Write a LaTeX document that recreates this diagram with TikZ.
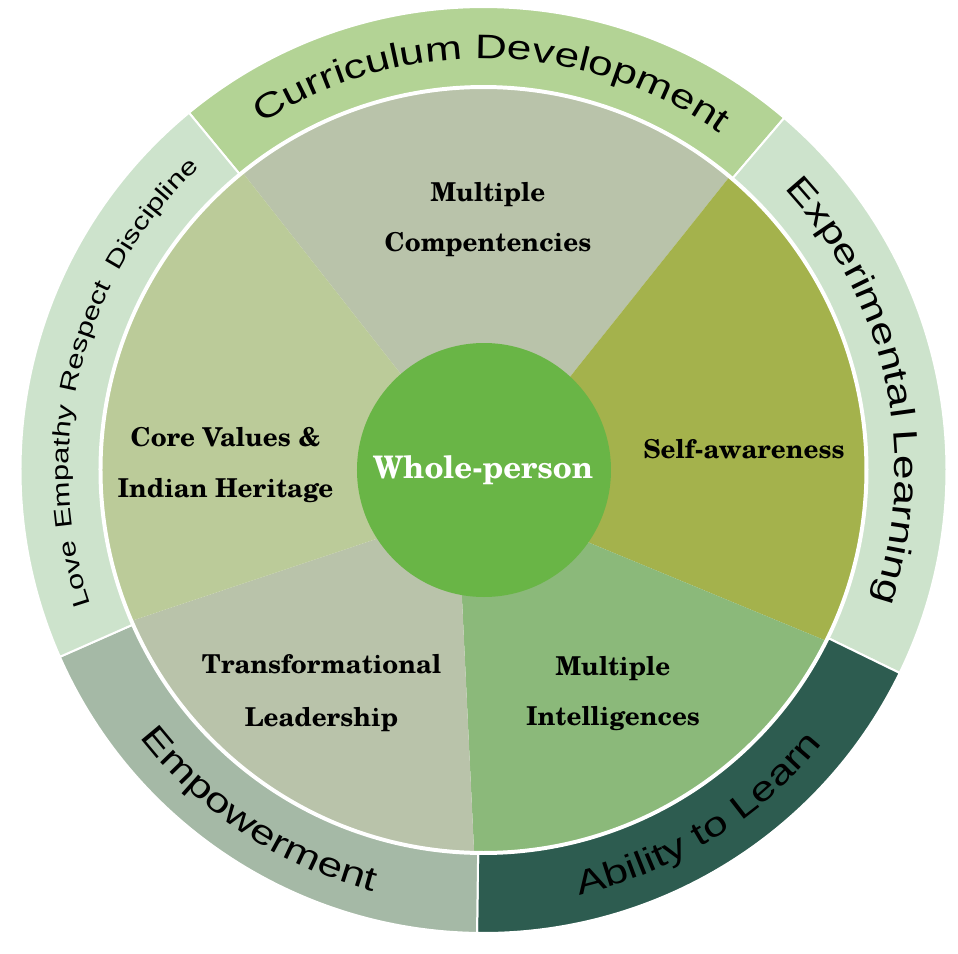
\documentclass[tikz,border=0pt]{standalone}
\usepackage{fontspec}
\usetikzlibrary{decorations.text}
\newfontfamily\ringfam[FakeStretch=1.3]{Liberation Sans}
\newfontfamily\labfam{texgyreschola-bold.otf}
\newcommand{\ringbig}{\ringfam\fontsize{25.5}{30}\selectfont}
\newcommand{\ringsmall}{\ringfam\fontsize{17.8}{21}\selectfont}
\definecolor{ringCD}{HTML}{B3D395}
\definecolor{ringPale}{HTML}{CDE3CC}
\definecolor{ringEmp}{HTML}{A5B9A6}
\definecolor{ringAbl}{HTML}{2D5C50}
\definecolor{pieGray}{HTML}{B9C3AA}
\definecolor{pieCore}{HTML}{BBCB99}
\definecolor{pieSelf}{HTML}{A4B24C}
\definecolor{pieMI}{HTML}{8BB97A}
\definecolor{centerGreen}{HTML}{69B546}
\tikzset{
  ringseg/.style={draw=white, line width=1.5pt},
  lab/.style={font=\labfam\fontsize{19.5}{24}\selectfont, anchor=base, inner sep=0pt, text=black},
  ringtext/.style={decorate, decoration={text along path, text align=center, text={#1}}}
}
\begin{document}
\begin{tikzpicture}[x=0.75pt,y=0.75pt]
\useasboundingbox (-483.5,-484) rectangle (474.5,470);
\fill[white] (-483.5,-484) rectangle (474.5,470);
% outer ring segments
\filldraw[fill=ringCD, ringseg] (129.5:463) arc[start angle=129.5, end angle=49.5, radius=463] -- (49.5:384) arc[start angle=49.5, end angle=129.5, radius=384] -- cycle;
\filldraw[fill=ringPale, ringseg] (49.5:463) arc[start angle=49.5, end angle=-26, radius=463] -- (-26:384) arc[start angle=-26, end angle=49.5, radius=384] -- cycle;
\filldraw[fill=ringAbl, ringseg] (-26:463) arc[start angle=-26, end angle=-90.8, radius=463] -- (-90.8:384) arc[start angle=-90.8, end angle=-26, radius=384] -- cycle;
\filldraw[fill=ringEmp, ringseg] (-90.8:463) arc[start angle=-90.8, end angle=-156.2, radius=463] -- (-156.2:384) arc[start angle=-156.2, end angle=-90.8, radius=384] -- cycle;
\filldraw[fill=ringPale, ringseg] (203.8:463) arc[start angle=203.8, end angle=129.5, radius=463] -- (129.5:384) arc[start angle=129.5, end angle=203.8, radius=384] -- cycle;
% pie wedges
\coordinate (C) at (0,0);
\coordinate (Q1) at (-36.6,37.3);
\coordinate (Q2) at (42.9,38.5);
\coordinate (Q3) at (36.1,-43.9);
\coordinate (Q4) at (-25.2,-50.8);
\coordinate (Q5) at (-38.6,-46);
\fill[pieGray] (Q1) -- (129:383) arc[start angle=129, end angle=50, radius=383] -- (Q2) -- (C) -- cycle;
\fill[pieSelf] (Q2) -- (50:383) arc[start angle=50, end angle=-26.5, radius=383] -- (Q3) -- (C) -- cycle;
\fill[pieMI] (Q3) -- (-26.5:383) arc[start angle=-26.5, end angle=-91.4, radius=383] -- (Q4) -- (C) -- cycle;
\fill[pieGray] (Q4) -- (-91.4:383) arc[start angle=-91.4, end angle=-156.8, radius=383] -- (Q5) -- (C) -- cycle;
\fill[pieCore] (Q5) -- (203.2:383) arc[start angle=203.2, end angle=129, radius=383] -- (Q1) -- (C) -- cycle;
\draw[white, line width=2.25pt] (0,0) circle[radius=382.5];
% centre
\node[circle, fill=centerGreen, minimum size=190.5pt, inner sep=0pt] (hub) at (0.5,0) {};
\node[lab, text=white, font=\labfam\fontsize{23.3}{28}\selectfont] (wp) at (-0.5,-8) {Whole-person};
% wedge labels
\node[lab] (mc1) at (4.5,268) {Multiple};
\node[lab] (mc2) at (4.5,218) {Compentencies};
\node[lab] (sa) at (260.5,12) {Self-awareness};
\node[lab] (mi1) at (129.5,-205) {Multiple};
\node[lab] (mi2) at (129.5,-255) {Intelligences};
\node[lab] (tl1) at (-162,-203) {Transformational};
\node[lab] (tl2) at (-162,-256) {Leadership};
\node[lab] (cv1) at (-258,24) {Core Values \&};
\node[lab] (cv2) at (-258,-27) {Indian Heritage};
% ring labels
\path[ringtext={|\ringbig|Curriculum Development}] (133.8:411.5) arc[start angle=133.8, end angle=43.8, radius=411.5];
\path[ringtext={|\ringbig|Experimental Learning}] (57.3:411.5) arc[start angle=57.3, end angle=-32.7, radius=411.5];
\path[ringtext={|\ringbig|Ability to Learn}] (-103.1:435.5) arc[start angle=-103.1, end angle=-13.1, radius=435.5];
\path[ringtext={|\ringbig|Empowerment}] (191.6:435.5) arc[start angle=191.6, end angle=281.6, radius=435.5];
\path[ringtext={|\ringsmall|Love}] (214.3:415) arc[start angle=214.3, end angle=174.3, radius=415];
\path[ringtext={|\ringsmall|Empathy}] (201.6:415) arc[start angle=201.6, end angle=157.6, radius=415];
\path[ringtext={|\ringsmall|Respect}] (183.5:415) arc[start angle=183.5, end angle=139.5, radius=415];
\path[ringtext={|\ringsmall|Discipline}] (164.3:415) arc[start angle=164.3, end angle=120.3, radius=415];
\end{tikzpicture}
\end{document}
